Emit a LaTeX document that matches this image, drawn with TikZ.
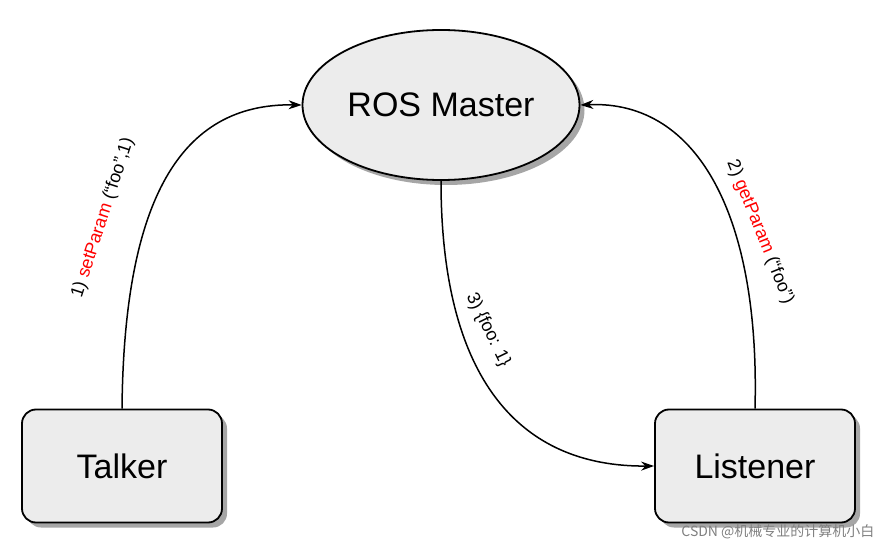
\documentclass[tikz,border=0pt]{standalone}
\usepackage{fontspec}
\setmainfont{Liberation Sans}
\newfontfamily\cjk{Noto Sans CJK SC}
\usetikzlibrary{shapes.geometric,arrows.meta,shadows}
\begin{document}
\begin{tikzpicture}[x=1pt,y=-1pt,
  box/.style={draw=black,line width=1.8pt,fill=gray!15,rounded corners=14pt,minimum width=200pt,minimum height=113pt,font=\fontsize{34}{40}\selectfont,drop shadow={shadow xshift=5pt,shadow yshift=-5pt,fill=gray!70,opacity=1}},
  master/.style={ellipse,draw=black,line width=1.8pt,fill=gray!15,minimum width=277pt,minimum height=150pt,font=\fontsize{34}{40}\selectfont,drop shadow={shadow xshift=5pt,shadow yshift=-5pt,fill=gray!70,opacity=1}},
  arrow/.style={line width=1.5pt,-{Stealth[length=13pt,width=9pt]}},
  lab/.style={font=\fontsize{18}{20}\selectfont}]
\useasboundingbox (0,0) rectangle (884,548);
\node[master] (m) at (441,105) {ROS Master};
\node[box] (t) at (122,466) {Talker};
\node[box] (l) at (755,466) {Listener};
\draw[arrow] (t.north) .. controls (124,200) and (180,103) .. (m.west);
\draw[arrow] (l.north) .. controls (760,220) and (700,100) .. (m.east);
\draw[arrow] (m.south) .. controls (441,380) and (520,467) .. (l.west);
\node[lab,rotate=72] (a) at (103,218) {1) \textcolor{red}{setParam} (“foo”,1)};
\node[lab,rotate=-68] (b) at (760,232) {2) \textcolor{red}{getParam} (“foo”)};
\node[lab,rotate=-64] (c) at (488,330) {3) \{foo: 1\}};
\node[font=\cjk\fontsize{14}{16}\selectfont,text=gray,anchor=east] (w) at (878,532) {CSDN @机械专业的计算机小白};
\end{tikzpicture}
\end{document}
